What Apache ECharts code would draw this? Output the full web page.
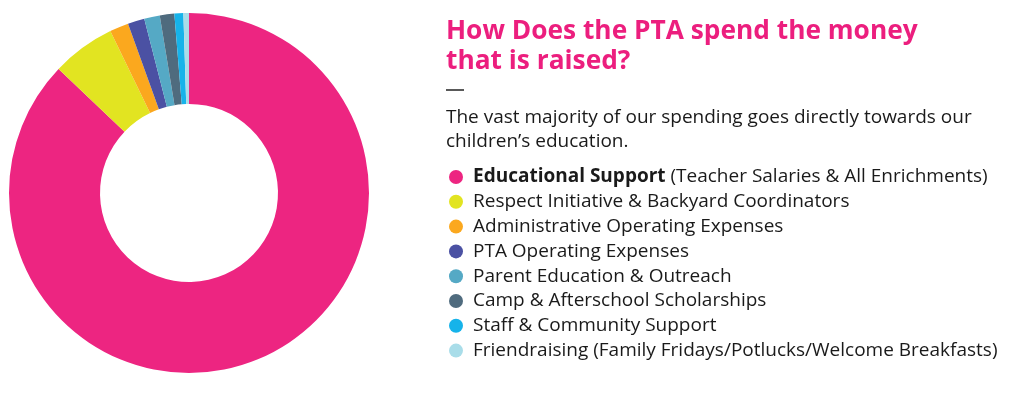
<!DOCTYPE html>
<html>
<head>
<meta charset="utf-8">
<script src="https://cdn.jsdelivr.net/npm/echarts@6/dist/echarts.min.js"></script>
<style>
html,body{margin:0;padding:0;background:#fff;}
#chart{width:1024px;height:410px;}
</style>
</head>
<body>
<div id="chart"></div>
<script>
// Data (percent of spending, read from the donut)
var categories = [
  'Educational Support',
  'Respect Initiative & Backyard Coordinators',
  'Administrative Operating Expenses',
  'PTA Operating Expenses',
  'Parent Education & Outreach',
  'Camp & Afterschool Scholarships',
  'Staff & Community Support',
  'Friendraising (Family Fridays/Potlucks/Welcome Breakfasts)'
];
var values = [87.1, 5.7, 1.7, 1.5, 1.4, 1.3, 0.8, 0.5];
var firstItemNote = ' (Teacher Salaries & All Enrichments)';
var titleText = 'How Does the PTA spend the money\nthat is raised?';
var descText = 'The vast majority of our spending goes directly towards our\nchildren\u2019s education.';

var palette = ['#ED2581', '#E2E421', '#FBA81E', '#4B51A3', '#55A9C5', '#4F6B7E', '#16B3EA', '#A9DDE9'];
var FONT = '"Open Sans", Lato, sans-serif';

var chart = echarts.init(document.getElementById('chart'));
var pieData = categories.map(function (c, i) { return { name: c, value: values[i] }; });

chart.setOption({
  animation: false,
  color: palette,
  title: [
    {
      text: titleText,
      left: 441, top: 12,
      textStyle: { color: '#EC1E7E', fontSize: 26.3, fontWeight: 'bold', lineHeight: 30, fontFamily: FONT }
    },
    {
      text: descText,
      left: 441, top: 101,
      textStyle: { color: '#1a1a1a', fontSize: 19, fontWeight: 'normal', lineHeight: 24, fontFamily: FONT }
    }
  ],
  graphic: [
    { type: 'line', shape: { x1: 446, y1: 90, x2: 464, y2: 90 }, style: { stroke: '#222', lineWidth: 1.5 } }
  ],
  legend: {
    orient: 'vertical',
    left: 444, top: 162,
    icon: 'circle',
    itemWidth: 14, itemHeight: 14,
    itemGap: 4.8,
    selectedMode: false,
    formatter: function (name) {
      if (name === categories[0]) return '{b|' + name + '}' + firstItemNote;
      return name;
    },
    textStyle: {
      color: '#1a1a1a', fontSize: 19, lineHeight: 20, fontFamily: FONT, padding: [0, 0, 0, 5],
      rich: { b: { fontWeight: 'bold', fontSize: 19, lineHeight: 20, color: '#1a1a1a', fontFamily: FONT } }
    },
    data: categories
  },
  series: [{
    type: 'pie',
    center: [189, 193],
    radius: [89, 180],
    startAngle: 90,
    clockwise: true,
    label: { show: false },
    labelLine: { show: false },
    emphasis: { disabled: true },
    itemStyle: { borderWidth: 0 },
    data: pieData
  }]
});
</script>
</body>
</html>
